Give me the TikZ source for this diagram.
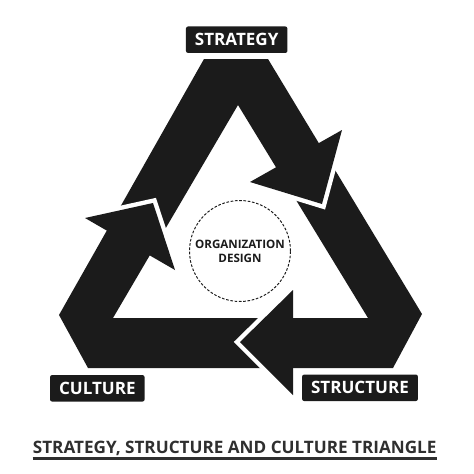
\documentclass[tikz,border=0pt]{standalone}
\usepackage{fontspec}
\setmainfont{Open Sans}
\definecolor{ink}{HTML}{1B1B1B}
\definecolor{inkgray}{HTML}{2F2F2F}
\begin{document}
\begin{tikzpicture}[
 x=0.02cm, y=-0.02cm,
    L/.style = {fill=ink, rounded corners=1.2pt, text=white,% styles of label boxes
                font=\bfseries\fontsize{9.7}{11}\selectfont,
                minimum height=0.53cm, inner xsep=0.18cm, inner ysep=0pt},
    H/.style = {draw=white, line width=5pt, miter limit=10},% white gap in front of heads
                        ]
\useasboundingbox (0,0) rectangle (474,474);
% band: outer hexagon and inner triangle
\coordinate (o1) at (204,59);  \coordinate (o2) at (268,59);
\coordinate (o3) at (422,314); \coordinate (o4) at (393,368);
\coordinate (o5) at (88,368);  \coordinate (o6) at (59,315);
\coordinate (i1) at (238,105); \coordinate (i2) at (368,318);
\coordinate (i3) at (113,318);
\fill[ink, even odd rule] (o1) -- (o2) -- (o3) -- (o4) -- (o5) -- (o6) -- cycle
                          (i1) -- (i2) -- (i3) -- cycle;
% arrow heads: tip, outer wing, inner wing
\coordinate (A-tip) at (322,204); \coordinate (A-wo) at (342,130); \coordinate (A-wi) at (250,182);
\coordinate (B-tip) at (240,342); \coordinate (B-wo) at (293,395); \coordinate (B-wi) at (293,290);
\coordinate (C-tip) at (153,203); \coordinate (C-wo) at (85,218);  \coordinate (C-wi) at (175,270);
\foreach \i in {A,B,C}% <-- the three arrows
  {
    \draw[H] (\i-wo) -- (\i-tip) -- (\i-wi);
    \fill[ink] (\i-wo) -- (\i-tip) -- (\i-wi) -- cycle;
  }
% labels
\node[L] (STR) at (236.7,39.7)  {STRATEGY};
\node[L] (CUL) at (97.3,388.3)  {CULTURE};
\node[L] (STU) at (360,387.8)   {STRUCTURE};
\node[circle, draw=ink, dash pattern=on 1.5pt off 0.95pt, line width=0.55pt,
      minimum size=2.02cm, inner sep=0pt, align=center, text=ink,
      font=\bfseries\fontsize{6.6}{7.8}\selectfont] (OD) at (240,251) {ORGANIZATION\\DESIGN};
% title
\node[anchor=base, inner sep=0pt, text=inkgray,
      font=\bfseries\fontsize{9.75}{12}\selectfont] (T) at (234.7,453.3)
      {STRATEGY, STRUCTURE AND CULTURE TRIANGLE};
\draw[inkgray, line width=1.5pt] ([yshift=-0.105cm]T.base west) -- ([yshift=-0.105cm]T.base east);
\end{tikzpicture}
\end{document}
